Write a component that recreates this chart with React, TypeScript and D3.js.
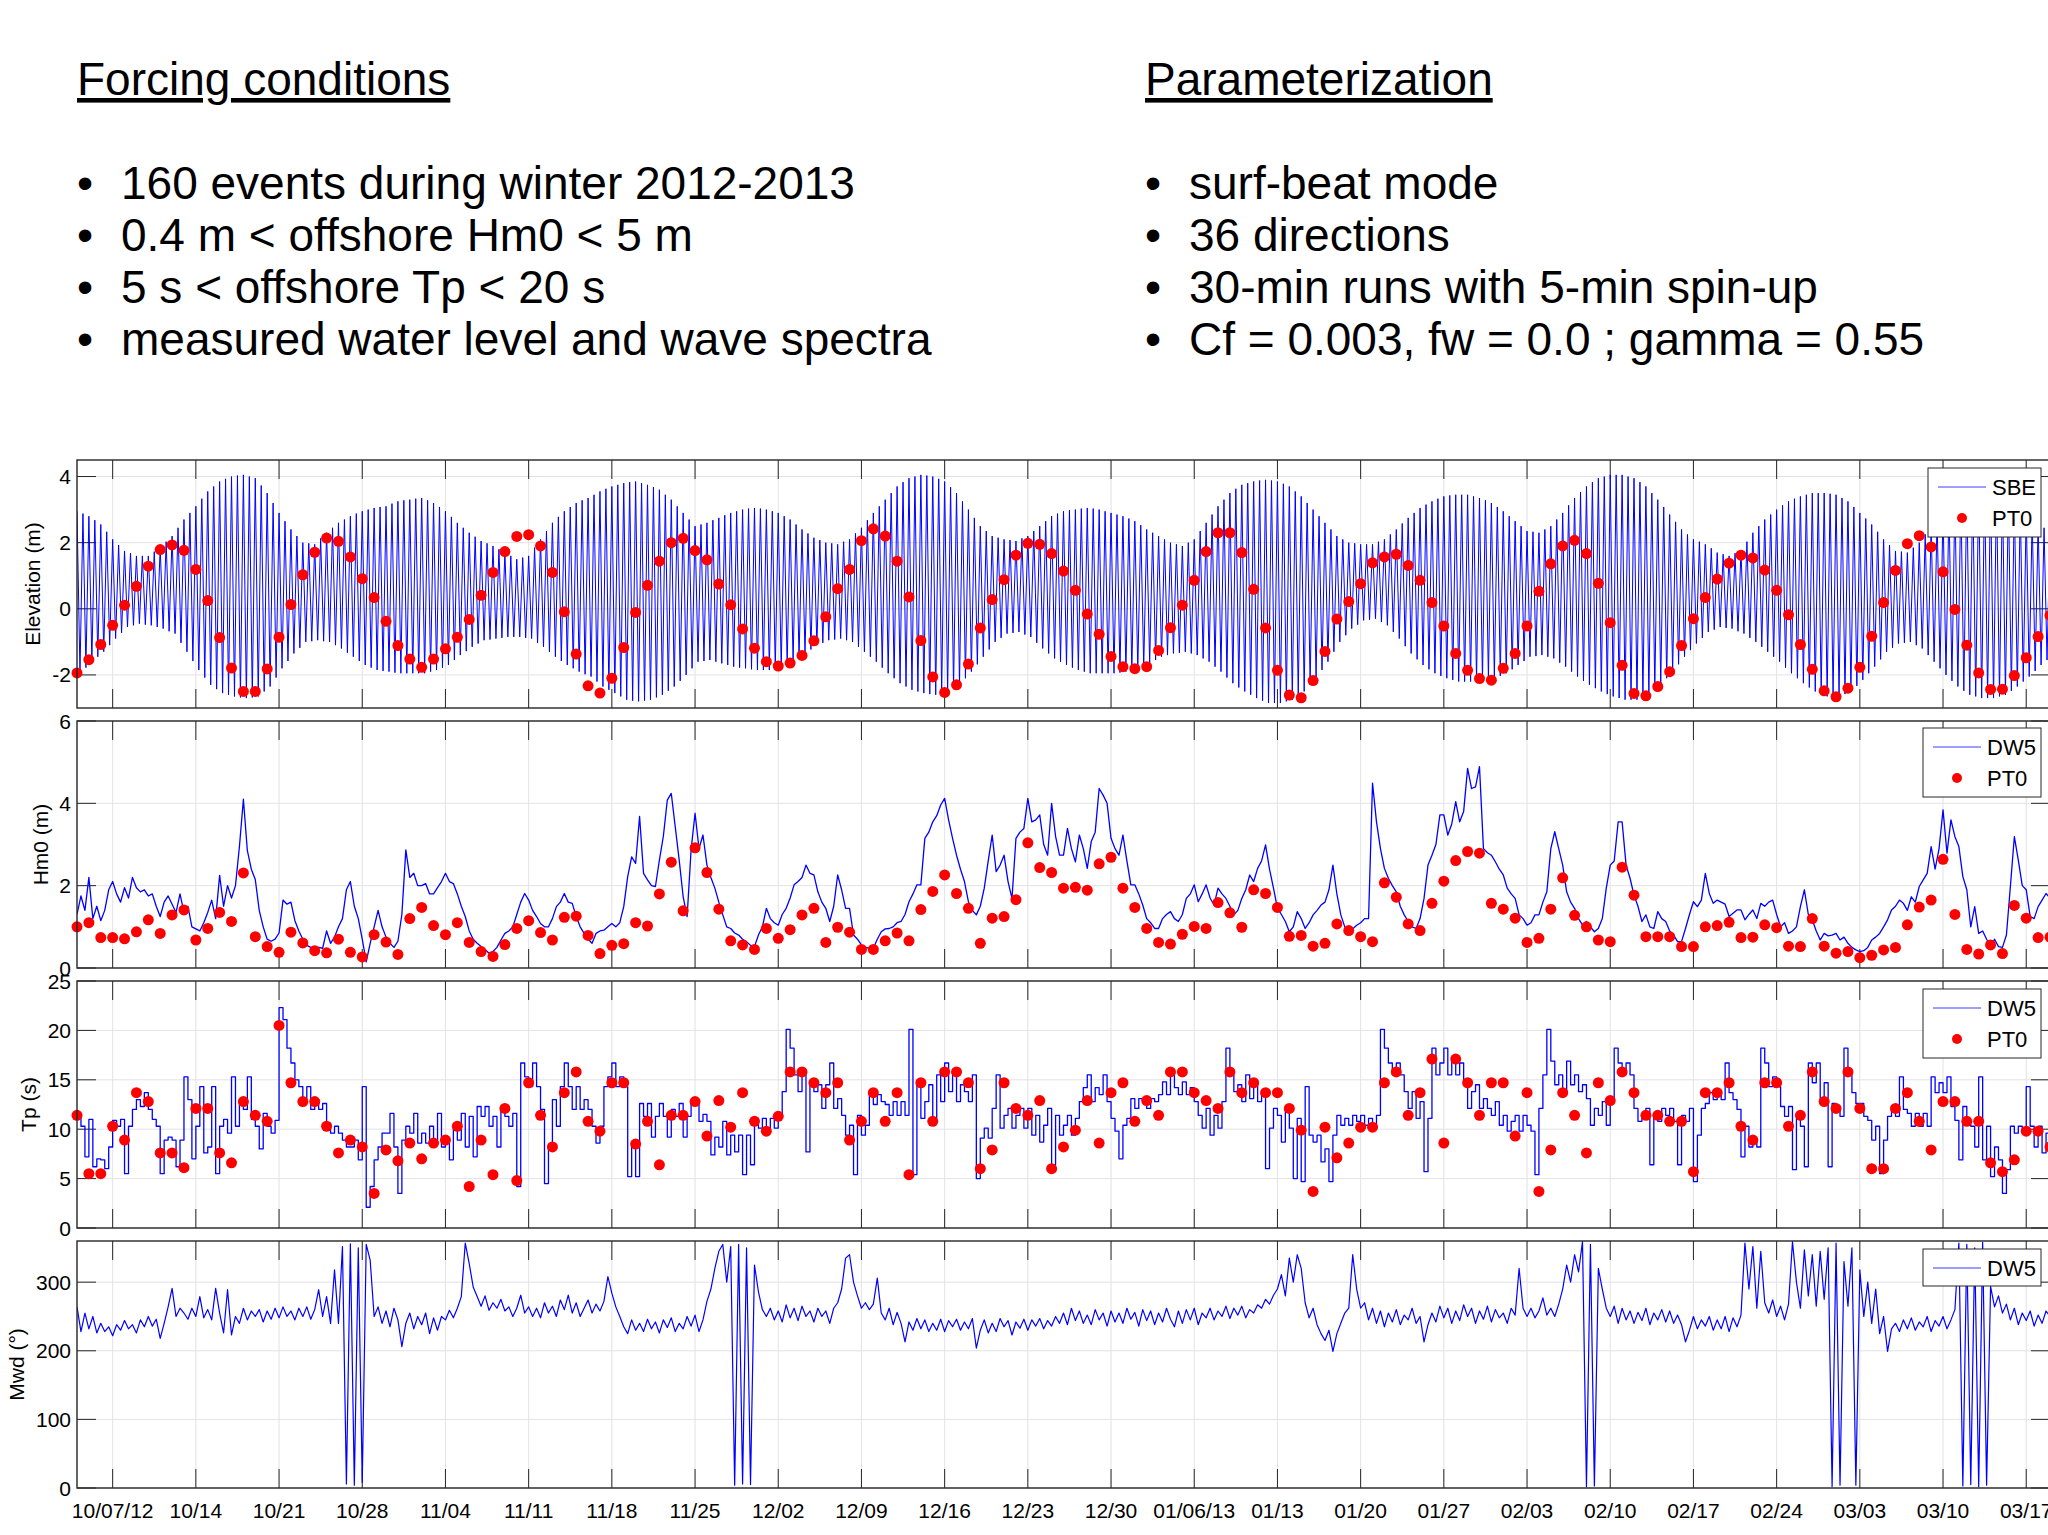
import * as d3 from 'd3'

// slide text
const forcingTitle = 'Forcing conditions'
const forcingItems = [
  '160 events during winter 2012-2013',
  '0.4 m < offshore Hm0 < 5 m',
  '5 s < offshore Tp < 20 s',
  'measured water level and wave spectra',
]
const paramTitle = 'Parameterization'
const paramItems = [
  'surf-beat mode',
  '36 directions',
  '30-min runs with 5-min spin-up',
  'Cf = 0.003, fw = 0.0 ; gamma = 0.55',
]

const tickLabels = [
  '10/07/12', '10/14', '10/21', '10/28', '11/04', '11/11', '11/18', '11/25', '12/02', '12/09', '12/16', '12/23',
  '12/30', '01/06/13', '01/13', '01/20', '01/27', '02/03', '02/10', '02/17', '02/24', '03/03', '03/10', '03/17',
]

// SBE water level: high / low water, two tides a day from 10/04/12
const sbeHigh = [
  2.95, 2.88, 2.8, 2.68, 2.55, 2.33, 2.1, 1.93, 1.75, 1.68, 1.6, 1.6, 1.6, 1.73, 1.85, 2.03, 2.2, 2.45, 2.7, 2.9,
  3.1, 3.33, 3.55, 3.7, 3.85, 3.93, 4.0, 4.03, 4.05, 4.0, 3.95, 3.73, 3.5, 3.2, 2.9, 2.65, 2.4, 2.2, 2.0, 1.98,
  1.95, 2.13, 2.3, 2.45, 2.6, 2.7, 2.8, 2.88, 2.95, 3.0, 3.05, 3.08, 3.1, 3.18, 3.25, 3.28, 3.3, 3.33, 3.35, 3.28,
  3.2, 3.08, 2.95, 2.78, 2.6, 2.45, 2.3, 2.18, 2.05, 1.98, 1.9, 1.8, 1.7, 1.6, 1.5, 1.55, 1.6, 1.85, 2.1, 2.35,
  2.6, 2.78, 2.95, 3.08, 3.2, 3.28, 3.35, 3.45, 3.55, 3.63, 3.7, 3.75, 3.8, 3.83, 3.85, 3.8, 3.75, 3.68, 3.6, 3.45,
  3.3, 3.1, 2.9, 2.7, 2.5, 2.55, 2.6, 2.68, 2.75, 2.83, 2.9, 2.95, 3.0, 3.03, 3.05, 3.03, 3.0, 2.95, 2.9, 2.8,
  2.7, 2.55, 2.4, 2.28, 2.15, 2.08, 2.0, 1.98, 1.95, 2.03, 2.1, 2.28, 2.45, 2.68, 2.9, 3.1, 3.3, 3.5, 3.7, 3.83,
  3.95, 4.0, 4.05, 4.03, 4.0, 3.93, 3.85, 3.68, 3.5, 3.25, 3.0, 2.75, 2.5, 2.35, 2.2, 2.15, 2.1, 2.08, 2.05, 2.13,
  2.2, 2.35, 2.5, 2.65, 2.8, 2.88, 2.95, 2.98, 3.0, 3.03, 3.05, 3.03, 3.0, 2.95, 2.9, 2.85, 2.8, 2.73, 2.65, 2.53,
  2.4, 2.3, 2.2, 2.1, 2.0, 1.95, 1.9, 2.0, 2.1, 2.35, 2.6, 2.85, 3.1, 3.3, 3.5, 3.63, 3.75, 3.8, 3.85, 3.88,
  3.9, 3.88, 3.85, 3.78, 3.7, 3.55, 3.4, 3.2, 3.0, 2.8, 2.6, 2.4, 2.2, 2.1, 2.0, 1.98, 1.95, 1.95, 1.95, 2.03,
  2.1, 2.25, 2.4, 2.58, 2.75, 2.9, 3.05, 3.15, 3.25, 3.33, 3.4, 3.43, 3.45, 3.45, 3.45, 3.4, 3.35, 3.28, 3.2, 3.08,
  2.95, 2.8, 2.65, 2.5, 2.35, 2.33, 2.3, 2.4, 2.5, 2.7, 2.9, 3.13, 3.35, 3.53, 3.7, 3.83, 3.95, 4.0, 4.05, 4.05,
  4.05, 4.0, 3.95, 3.83, 3.7, 3.5, 3.3, 3.08, 2.85, 2.63, 2.4, 2.25, 2.1, 2.03, 1.95, 1.83, 1.7, 1.65, 1.6, 1.68,
  1.75, 2.03, 2.3, 2.5, 2.7, 2.85, 3.0, 3.13, 3.25, 3.33, 3.4, 3.45, 3.5, 3.5, 3.5, 3.48, 3.45, 3.35, 3.25, 3.08,
  2.9, 2.73, 2.55, 2.33, 2.1, 1.93, 1.75, 1.73, 1.7, 1.85, 2.0, 2.25, 2.5, 2.75, 3.0, 3.2, 3.4, 3.55, 3.7, 3.75,
  3.8, 3.78, 3.75, 3.68, 3.6, 3.45, 3.3, 3.13, 2.95, 2.78, 2.6, 2.45, 2.3, 2.2,
]
const sbeLow = [
  -1.95, -1.78, -1.6, -1.45, -1.3, -1.1, -0.9, -0.73, -0.55, -0.5, -0.45, -0.48, -0.5, -0.55, -0.6, -0.68, -0.75, -1.03, -1.3, -1.58,
  -1.85, -2.08, -2.3, -2.43, -2.55, -2.6, -2.65, -2.68, -2.7, -2.68, -2.65, -2.5, -2.35, -2.08, -1.8, -1.58, -1.35, -1.18, -1.0, -0.98,
  -0.95, -0.98, -1.0, -1.1, -1.2, -1.33, -1.45, -1.58, -1.7, -1.78, -1.85, -1.88, -1.9, -1.93, -1.95, -1.95, -1.95, -1.95, -1.95, -1.9,
  -1.85, -1.78, -1.7, -1.55, -1.4, -1.28, -1.15, -1.05, -0.95, -0.93, -0.9, -0.88, -0.85, -0.85, -0.85, -0.88, -0.9, -1.03, -1.15, -1.3,
  -1.45, -1.58, -1.7, -1.8, -1.9, -1.98, -2.05, -2.2, -2.35, -2.45, -2.55, -2.65, -2.75, -2.78, -2.8, -2.78, -2.75, -2.68, -2.6, -2.48,
  -2.35, -2.18, -2.0, -1.8, -1.6, -1.58, -1.55, -1.6, -1.65, -1.7, -1.75, -1.78, -1.8, -1.83, -1.85, -1.85, -1.85, -1.83, -1.8, -1.7,
  -1.6, -1.48, -1.35, -1.23, -1.1, -1.03, -0.95, -0.93, -0.9, -0.95, -1.0, -1.15, -1.3, -1.45, -1.6, -1.78, -1.95, -2.1, -2.25, -2.35,
  -2.45, -2.5, -2.55, -2.58, -2.6, -2.58, -2.55, -2.43, -2.3, -2.1, -1.9, -1.68, -1.45, -1.23, -1.0, -0.88, -0.75, -0.73, -0.7, -0.78,
  -0.85, -1.03, -1.2, -1.35, -1.5, -1.6, -1.7, -1.78, -1.85, -1.9, -1.95, -1.95, -1.95, -1.95, -1.95, -1.93, -1.9, -1.88, -1.85, -1.75,
  -1.65, -1.55, -1.45, -1.4, -1.35, -1.33, -1.3, -1.35, -1.4, -1.5, -1.6, -1.75, -1.9, -2.08, -2.25, -2.38, -2.5, -2.6, -2.7, -2.78,
  -2.85, -2.85, -2.85, -2.8, -2.75, -2.63, -2.5, -2.3, -2.1, -1.85, -1.6, -1.3, -1.0, -0.8, -0.6, -0.48, -0.35, -0.33, -0.3, -0.4,
  -0.5, -0.7, -0.9, -1.13, -1.35, -1.53, -1.7, -1.83, -1.95, -2.03, -2.1, -2.15, -2.2, -2.2, -2.2, -2.18, -2.15, -2.13, -2.1, -2.03,
  -1.95, -1.83, -1.7, -1.58, -1.45, -1.43, -1.4, -1.45, -1.5, -1.63, -1.75, -1.9, -2.05, -2.18, -2.3, -2.4, -2.5, -2.58, -2.65, -2.7,
  -2.75, -2.75, -2.75, -2.68, -2.6, -2.45, -2.3, -2.1, -1.9, -1.68, -1.45, -1.25, -1.05, -0.88, -0.7, -0.63, -0.55, -0.58, -0.6, -0.68,
  -0.75, -0.88, -1.0, -1.15, -1.3, -1.45, -1.6, -1.78, -1.95, -2.1, -2.25, -2.38, -2.5, -2.58, -2.65, -2.65, -2.65, -2.58, -2.5, -2.33,
  -2.15, -1.95, -1.75, -1.53, -1.3, -1.18, -1.05, -1.03, -1.0, -1.1, -1.2, -1.4, -1.6, -1.8, -2.0, -2.18, -2.35, -2.48, -2.6, -2.65,
  -2.7, -2.7, -2.7, -2.65, -2.6, -2.48, -2.35, -2.2, -2.05, -1.88, -1.7, -1.55, -1.4, -1.3,
]

// PT0 events, one a day from 10/04/12
const pt0Elevation = [
  -1.94, -1.54, -1.08, -0.5, 0.11, 0.68, 1.29, 1.79, 1.93, 1.77,
  1.19, 0.25, -0.87, -1.79, -2.5, -2.5, -1.82, -0.86, 0.13, 1.03,
  1.71, 2.14, 2.04, 1.57, 0.91, 0.34, -0.38, -1.11, -1.52, -1.77,
  -1.52, -1.21, -0.86, -0.32, 0.41, 1.1, 1.73, 2.19, 2.24, 1.9,
  1.1, -0.09, -1.37, -2.33, -2.55, -2.1, -1.17, -0.11, 0.71, 1.44,
  2.0, 2.13, 1.76, 1.48, 0.75, 0.12, -0.61, -1.19, -1.6, -1.73,
  -1.64, -1.41, -0.97, -0.24, 0.61, 1.19, 2.06, 2.42, 2.2, 1.44,
  0.36, -0.96, -2.06, -2.53, -2.3, -1.67, -0.58, 0.28, 0.88, 1.62,
  1.98, 1.95, 1.67, 1.14, 0.56, -0.16, -0.77, -1.44, -1.75, -1.81,
  -1.75, -1.26, -0.57, 0.11, 0.86, 1.73, 2.3, 2.3, 1.7, 0.59,
  -0.58, -1.86, -2.61, -2.69, -2.17, -1.29, -0.31, 0.22, 0.76, 1.39,
  1.57, 1.65, 1.31, 0.86, 0.19, -0.52, -1.35, -1.86, -2.11, -2.16,
  -1.8, -1.35, -0.52, 0.53, 1.36, 1.9, 2.07, 1.67, 0.77, -0.42,
  -1.71, -2.56, -2.63, -2.35, -1.9, -1.11, -0.3, 0.34, 0.9, 1.38,
  1.62, 1.54, 1.17, 0.56, -0.18, -1.08, -1.83, -2.48, -2.66, -2.4,
  -1.77, -0.83, 0.19, 1.16, 1.97, 2.21, 1.87, 1.12, -0.02, -1.1,
  -1.94, -2.44, -2.43, -2.02, -1.48, -0.84, -0.2,
]
const pt0Hm0 = [
  1.0, 1.1, 0.74, 0.74, 0.71, 0.88, 1.17, 0.84, 1.29, 1.41,
  0.68, 0.96, 1.35, 1.13, 2.31, 0.76, 0.52, 0.38, 0.87, 0.61,
  0.42, 0.37, 0.7, 0.38, 0.27, 0.81, 0.63, 0.33, 1.2, 1.47,
  1.03, 0.81, 1.1, 0.62, 0.4, 0.28, 0.57, 0.96, 1.15, 0.86,
  0.68, 1.23, 1.26, 0.79, 0.35, 0.55, 0.59, 1.1, 1.02, 1.8,
  2.57, 1.39, 2.92, 2.32, 1.43, 0.66, 0.56, 0.45, 0.96, 0.72,
  0.93, 1.29, 1.45, 0.62, 0.99, 0.87, 0.45, 0.45, 0.66, 0.85,
  0.66, 1.42, 1.86, 2.26, 1.81, 1.45, 0.6, 1.21, 1.25, 1.66,
  3.04, 2.44, 2.32, 1.94, 1.96, 1.89, 2.53, 2.69, 1.94, 1.47,
  0.96, 0.62, 0.58, 0.82, 1.01, 0.96, 1.59, 1.34, 0.99, 1.9,
  1.81, 1.47, 0.77, 0.79, 0.53, 0.6, 1.07, 0.91, 0.76, 0.64,
  2.07, 1.72, 1.07, 0.91, 1.57, 2.11, 2.61, 2.83, 2.79, 1.57,
  1.43, 1.21, 0.62, 0.72, 1.43, 2.19, 1.28, 1.0, 0.68, 0.64,
  2.45, 1.77, 0.76, 0.76, 0.76, 0.52, 0.52, 1.0, 1.03, 1.11,
  0.74, 0.75, 1.05, 0.98, 0.53, 0.52, 1.2, 0.53, 0.36, 0.4,
  0.25, 0.31, 0.44, 0.5, 1.05, 1.48, 1.65, 2.64, 1.3, 0.45,
  0.34, 0.56, 0.35, 1.52, 1.21, 0.74, 0.75,
]
const pt0Tp = [
  11.4, 5.5, 5.5, 10.3, 8.9, 13.7, 12.8, 7.6, 7.6, 6.1,
  12.1, 12.1, 7.6, 6.6, 12.8, 11.4, 10.8, 20.5, 14.7, 12.8,
  12.8, 10.3, 7.6, 8.9, 8.2, 3.5, 7.9, 6.8, 8.6, 7.0,
  8.6, 8.9, 10.3, 4.2, 8.9, 5.4, 12.1, 4.8, 14.7, 11.4,
  8.2, 13.7, 15.8, 10.8, 9.8, 14.7, 14.7, 8.5, 10.8, 6.4,
  11.4, 11.4, 12.8, 9.3, 12.9, 10.2, 13.7, 10.8, 9.8, 11.3,
  15.8, 15.8, 14.7, 13.7, 14.7, 8.9, 10.8, 13.7, 10.8, 13.7,
  5.4, 14.7, 10.8, 15.8, 15.8, 14.7, 6.0, 7.9, 14.7, 12.1,
  11.4, 12.9, 6.0, 8.2, 9.9, 12.9, 8.6, 13.7, 14.7, 10.8,
  12.9, 11.4, 15.8, 15.8, 13.7, 12.9, 12.1, 15.8, 13.7, 14.7,
  13.7, 13.7, 12.1, 9.9, 3.7, 10.2, 7.1, 8.6, 10.2, 10.2,
  14.7, 15.8, 11.4, 13.7, 17.1, 8.6, 17.1, 14.7, 11.4, 14.7,
  14.7, 9.3, 13.7, 3.7, 7.9, 13.7, 11.4, 7.6, 14.7, 12.9,
  15.8, 13.7, 11.4, 11.4, 10.8, 10.8, 5.7, 13.7, 13.7, 14.7,
  10.3, 8.9, 14.7, 14.7, 10.3, 11.4, 15.8, 12.8, 12.1, 15.8,
  12.1, 6.0, 6.0, 12.1, 13.7, 10.8, 7.9, 12.8, 12.8, 10.8,
  10.8, 6.6, 5.7, 6.9, 9.8, 9.8, 8.2,
]

// DW5 buoy, every 8 hours from 10/04/12
const dw5Hm0 = [
  1.3, 1.75, 1.4, 2.2, 1.2, 1.5, 1.15, 1.4, 1.9, 2.1, 1.8, 1.6, 1.95, 1.7, 2.2,
  1.95, 1.85, 1.9, 1.75, 1.8, 1.5, 1.25, 1.6, 1.75, 1.55, 1.35, 1.8, 1.35, 1.5, 1.0,
  0.95, 0.9, 1.1, 1.35, 1.65, 1.2, 2.25, 1.5, 2.0, 1.7, 2.0, 2.95, 4.1, 2.85, 2.4,
  2.15, 1.4, 1.0, 0.7, 0.65, 0.7, 0.85, 1.65, 1.55, 1.6, 1.15, 0.9, 0.7, 0.55, 0.5,
  0.45, 0.5, 0.48, 0.9, 0.6, 0.75, 1.0, 1.2, 1.9, 2.1, 1.5, 1.2, 0.7, 0.15, 0.6,
  1.0, 1.4, 1.0, 0.75, 0.6, 0.5, 0.65, 1.3, 2.87, 2.2, 2.3, 2.0, 2.0, 2.05, 1.8,
  1.8, 1.95, 2.1, 2.3, 2.1, 2.05, 1.8, 1.5, 1.25, 0.9, 0.7, 0.6, 0.52, 0.45, 0.36,
  0.4, 0.5, 0.68, 0.84, 0.9, 1.0, 1.3, 1.6, 1.81, 1.65, 1.4, 1.25, 1.08, 1.0, 1.0,
  1.2, 1.49, 1.6, 1.81, 1.6, 1.57, 1.25, 1.0, 0.84, 0.7, 0.6, 0.84, 0.9, 0.92, 1.0,
  1.08, 1.0, 1.1, 1.49, 2.22, 2.7, 2.54, 3.68, 2.3, 2.14, 2.0, 1.98, 2.62, 3.2, 4.08,
  4.24, 3.43, 2.62, 1.73, 1.25, 2.87, 3.76, 2.9, 3.23, 2.5, 2.2, 1.94, 1.6, 1.29, 1.0,
  0.96, 0.85, 0.8, 0.7, 0.64, 0.55, 0.52, 0.8, 1.0, 1.45, 1.2, 1.1, 1.04, 1.3, 1.45,
  1.7, 2.02, 2.1, 2.2, 2.5, 2.3, 2.26, 1.85, 1.6, 1.45, 1.13, 1.5, 2.26, 1.9, 1.45,
  1.45, 0.8, 0.7, 0.56, 0.5, 0.48, 0.48, 0.7, 0.88, 0.95, 0.96, 1.0, 1.1, 1.13, 1.3,
  1.61, 1.8, 2.02, 2.02, 3.15, 3.3, 3.55, 3.7, 3.96, 4.12, 3.6, 3.15, 2.74, 2.4, 2.1,
  1.61, 1.4, 1.29, 1.5, 1.94, 2.6, 3.23, 2.34, 2.5, 2.74, 2.1, 1.69, 3.15, 3.3, 3.39,
  4.12, 3.55, 3.6, 3.72, 3.0, 2.74, 4.0, 3.2, 2.74, 2.74, 3.39, 2.9, 2.58, 3.23, 2.9,
  2.42, 3.07, 3.3, 4.36, 4.2, 4.0, 3.15, 2.9, 2.74, 3.23, 2.6, 2.02, 2.02, 1.8, 1.53,
  1.2, 1.1, 0.96, 0.96, 1.2, 1.3, 1.37, 1.2, 1.13, 1.3, 1.69, 1.8, 2.02, 1.61, 1.8,
  2.02, 1.7, 1.53, 1.94, 1.8, 1.69, 1.5, 1.29, 1.4, 1.69, 1.9, 2.26, 2.1, 2.42, 2.6,
  2.99, 2.4, 1.94, 1.45, 1.3, 1.13, 0.88, 1.0, 1.37, 1.2, 0.96, 1.1, 1.29, 1.4, 1.53,
  1.6, 1.9, 2.5, 1.8, 1.29, 1.0, 0.88, 0.95, 1.04, 1.1, 1.2, 1.2, 4.49, 3.55, 2.9,
  2.42, 2.18, 2.0, 1.85, 1.5, 1.29, 1.13, 1.0, 0.96, 1.2, 1.69, 2.5, 2.74, 3.0, 3.72,
  3.72, 3.23, 3.5, 4.04, 3.55, 3.8, 4.85, 4.36, 4.4, 4.89, 2.9, 2.8, 2.74, 2.58, 2.4,
  2.26, 1.94, 1.8, 1.69, 1.29, 1.2, 1.04, 1.1, 1.29, 1.29, 1.6, 1.85, 2.9, 3.31, 2.9,
  2.5, 1.85, 1.6, 1.45, 1.2, 1.04, 1.13, 1.0, 0.88, 0.96, 1.2, 1.94, 2.5, 2.6, 3.55,
  3.55, 2.5, 2.18, 1.77, 1.5, 1.13, 1.29, 1.0, 0.96, 1.37, 1.2, 1.13, 0.9, 0.8, 0.64,
  0.64, 0.96, 1.3, 1.61, 1.49, 1.65, 2.3, 1.81, 1.57, 1.65, 1.6, 1.55, 1.25, 1.33, 1.41,
  1.41, 1.17, 1.3, 1.41, 1.2, 1.57, 1.5, 1.6, 1.65, 1.3, 1.0, 1.1, 0.84, 0.9, 1.0,
  1.49, 1.9, 1.3, 1.17, 0.9, 0.68, 0.84, 0.78, 0.8, 0.84, 0.68, 0.75, 0.6, 0.5, 0.44,
  0.4, 0.42, 0.5, 0.68, 0.75, 0.84, 1.0, 1.17, 1.41, 1.5, 1.65, 1.57, 1.4, 1.73, 1.6,
  1.98, 2.14, 2.3, 2.95, 2.4, 2.9, 3.84, 2.79, 3.6, 3.19, 2.95, 2.22, 1.9, 1.0, 1.49,
  0.84, 0.9, 0.7, 0.52, 0.7, 0.52, 0.5, 0.8, 1.98, 3.19, 2.62, 2.0, 1.9, 1.25, 1.2,
  1.49, 1.65, 1.81, 1.7,
]
const dw5Tp = [
  11.6, 10.3, 7.2, 11.0, 6.2, 7.0, 6.9, 6.0, 8.2, 10.9, 10.3, 11.0, 5.5, 10.3, 12.0,
  13.0, 12.3, 13.7, 12.0, 11.0, 10.3, 5.5, 8.9, 9.2, 8.9, 6.2, 8.9, 15.3, 13.0, 7.0,
  10.3, 14.3, 7.6, 8.2, 14.3, 5.5, 10.3, 11.0, 9.6, 15.3, 10.3, 13.0, 12.0, 15.3, 11.0,
  10.3, 8.0, 11.6, 10.3, 9.6, 10.9, 22.3, 21.1, 18.2, 16.7, 15.0, 14.3, 13.0, 14.3, 12.0,
  13.0, 12.0, 12.6, 10.6, 9.6, 10.3, 9.6, 8.9, 8.2, 8.2, 8.9, 6.9, 14.3, 2.1, 4.2,
  6.9, 8.2, 9.6, 9.6, 11.6, 8.2, 3.5, 8.9, 10.3, 9.6, 11.6, 8.6, 9.6, 8.6, 10.3,
  8.9, 11.6, 8.2, 8.9, 6.9, 10.3, 8.9, 11.6, 8.2, 11.3, 7.2, 12.3, 11.3, 12.3, 10.3,
  11.3, 8.2, 12.0, 11.3, 10.3, 11.6, 4.2, 16.7, 15.3, 14.3, 16.7, 14.3, 12.0, 4.5, 8.2,
  13.0, 10.3, 14.3, 16.7, 14.3, 12.0, 14.3, 12.0, 13.0, 12.0, 10.3, 8.6, 10.3, 14.3, 15.3,
  16.7, 14.3, 15.3, 14.3, 5.2, 8.2, 5.2, 12.6, 11.3, 12.6, 9.2, 11.3, 12.6, 11.3, 9.2,
  12.0, 11.3, 12.6, 9.2, 11.3, 12.6, 12.8, 10.8, 11.5, 10.8, 7.4, 9.2, 8.2, 10.8, 7.4,
  9.4, 7.7, 9.4, 5.4, 9.4, 6.4, 11.1, 10.1, 11.1, 10.1, 11.1, 10.1, 11.1, 13.8, 20.1,
  18.2, 15.5, 13.8, 15.5, 7.7, 14.5, 13.8, 14.5, 12.1, 14.5, 16.7, 12.1, 13.1, 11.4, 9.4,
  10.4, 5.4, 11.4, 9.4, 10.4, 13.5, 12.5, 13.5, 12.8, 12.5, 11.4, 12.8, 11.4, 12.8, 11.4,
  20.1, 5.4, 14.5, 11.1, 12.8, 14.5, 11.1, 15.5, 12.8, 16.7, 13.8, 15.5, 12.8, 14.5, 13.8,
  12.8, 15.5, 5.0, 9.1, 10.1, 9.1, 12.1, 15.5, 10.1, 11.4, 12.1, 10.1, 11.4, 12.1, 10.1,
  12.1, 9.4, 11.4, 8.7, 10.4, 12.1, 6.4, 11.4, 9.4, 10.4, 11.4, 9.4, 11.1, 12.8, 14.2,
  15.5, 12.8, 14.2, 13.5, 15.5, 12.8, 11.1, 9.8, 7.0, 10.4, 11.1, 13.1, 12.1, 13.1, 12.8,
  12.1, 13.1, 12.8, 13.5, 14.8, 13.5, 15.9, 14.2, 13.5, 14.8, 13.5, 14.2, 12.8, 11.4, 10.1,
  12.1, 9.4, 11.4, 10.1, 12.8, 18.2, 15.5, 13.8, 14.5, 12.8, 15.5, 13.1, 14.5, 12.8, 13.8,
  6.0, 10.1, 12.1, 11.4, 8.7, 12.1, 10.1, 5.0, 11.1, 4.7, 14.3, 9.4, 8.7, 9.4, 6.7,
  8.0, 4.7, 9.4, 11.4, 10.4, 11.1, 10.4, 11.4, 10.8, 11.4, 10.4, 11.1, 10.1, 11.4, 20.1,
  18.2, 16.7, 15.5, 16.7, 15.5, 13.8, 12.1, 13.8, 11.1, 12.8, 5.7, 11.1, 18.2, 15.5, 16.7,
  18.2, 15.5, 17.1, 15.5, 16.7, 14.5, 12.1, 13.8, 14.5, 12.1, 13.1, 12.1, 11.4, 12.8, 10.4,
  11.4, 9.8, 10.8, 11.4, 9.8, 11.4, 10.4, 9.8, 5.4, 12.1, 15.5, 20.1, 16.9, 14.5, 15.5,
  13.8, 16.9, 14.5, 15.5, 13.8, 14.5, 13.1, 10.4, 12.1, 11.4, 12.8, 10.4, 13.1, 18.2, 16.7,
  15.5, 16.7, 15.5, 12.1, 10.8, 11.4, 12.1, 6.4, 11.4, 10.8, 12.1, 11.4, 12.1, 10.8, 6.4,
  11.4, 10.8, 12.1, 4.7, 9.4, 12.1, 12.6, 13.7, 13.0, 13.7, 13.0, 16.7, 13.7, 13.0, 12.0,
  7.2, 10.3, 8.2, 8.9, 8.2, 18.2, 16.7, 14.3, 15.3, 14.3, 12.3, 11.3, 12.3, 5.9, 11.3,
  10.3, 6.2, 16.7, 14.7, 16.7, 12.6, 14.7, 6.2, 12.6, 12.0, 11.3, 18.2, 16.0, 13.7, 12.6,
  12.6, 11.3, 10.9, 8.9, 10.3, 5.5, 8.9, 11.3, 12.0, 11.3, 15.3, 12.0, 11.6, 10.3, 11.6,
  10.3, 11.6, 10.3, 15.3, 13.7, 14.7, 13.7, 15.3, 12.3, 10.9, 6.9, 12.3, 10.9, 10.3, 8.2,
  15.3, 6.9, 10.3, 5.2, 8.2, 6.9, 3.5, 5.9, 10.3, 9.6, 10.3, 9.6, 14.3, 10.3, 8.2,
  10.3, 7.6, 9.6, 8.2,
]
const dw5Mwd = [
  264, 228, 255, 232, 250, 226, 240, 228, 235, 222, 238, 230, 244, 232, 238,
  226, 245, 235, 250, 236, 246, 218, 240, 264, 291, 250, 262, 255, 246, 262,
  250, 279, 248, 260, 245, 291, 255, 226, 289, 223, 250, 240, 262, 245, 258,
  250, 260, 242, 258, 246, 262, 248, 264, 250, 258, 245, 262, 250, 264, 246,
  260, 289, 250, 279, 240, 318, 240, 352, 6, 356, 4, 350, 8, 355, 332,
  250, 264, 240, 258, 235, 262, 245, 206, 240, 255, 232, 250, 238, 255, 225,
  248, 230, 250, 245, 259, 248, 262, 279, 357, 327, 293, 279, 265, 280, 259,
  270, 262, 275, 258, 264, 250, 262, 281, 255, 264, 250, 262, 248, 270, 255,
  265, 250, 274, 260, 281, 255, 270, 250, 262, 274, 255, 268, 258, 272, 308,
  284, 264, 250, 235, 225, 245, 230, 240, 228, 246, 232, 242, 226, 245, 234,
  248, 228, 240, 232, 250, 236, 252, 228, 245, 272, 290, 320, 345, 355, 300,
  352, 4, 355, 6, 350, 5, 325, 286, 260, 250, 262, 245, 258, 242, 267,
  248, 262, 244, 265, 250, 258, 242, 262, 250, 258, 240, 262, 270, 290, 335,
  340, 300, 280, 262, 270, 260, 268, 306, 255, 245, 262, 238, 256, 240, 213,
  242, 230, 247, 232, 245, 228, 240, 230, 246, 228, 244, 235, 246, 230, 242,
  232, 247, 204, 230, 245, 226, 240, 228, 247, 235, 244, 223, 242, 233, 246,
  230, 245, 236, 247, 232, 244, 236, 250, 240, 255, 238, 262, 244, 258, 240,
  252, 238, 260, 245, 255, 236, 258, 242, 255, 240, 262, 246, 256, 236, 260,
  244, 258, 238, 255, 242, 262, 246, 235, 258, 240, 260, 245, 262, 238, 255,
  248, 262, 245, 258, 250, 265, 247, 262, 252, 265, 248, 260, 255, 267, 262,
  275, 268, 281, 290, 311, 280, 335, 300, 340, 320, 270, 248, 262, 238, 225,
  215, 230, 199, 225, 240, 255, 262, 340, 290, 262, 270, 245, 262, 240, 258,
  235, 255, 242, 260, 238, 252, 245, 262, 240, 250, 213, 238, 255, 242, 265,
  248, 262, 240, 258, 244, 267, 250, 262, 240, 258, 246, 265, 242, 260, 248,
  255, 240, 262, 252, 320, 262, 250, 262, 248, 258, 277, 252, 262, 250, 268,
  290, 325, 300, 340, 315, 359, 2, 355, 3, 320, 290, 262, 250, 265, 240,
  262, 245, 258, 240, 256, 244, 262, 238, 255, 245, 260, 242, 258, 240, 252,
  238, 213, 230, 250, 232, 245, 236, 250, 230, 245, 232, 250, 228, 248, 235,
  252, 357, 290, 352, 262, 345, 270, 255, 274, 250, 265, 245, 268, 359, 300,
  262, 347, 280, 340, 265, 345, 275, 350, 2, 357, 4, 330, 265, 350, 4,
  318, 250, 300, 240, 290, 225, 250, 199, 232, 240, 228, 245, 232, 248, 230,
  242, 235, 250, 228, 244, 236, 250, 232, 245, 260, 357, 3, 355, 5, 350,
  2, 358, 4, 294, 264, 280, 255, 268, 245, 262, 238, 255, 244, 258, 236,
  252, 240, 258, 250,
]

type Pt = { t: number; v: number }

const DAY = 86400000
const START = Date.UTC(2012, 9, 4)
const END = Date.UTC(2013, 2, 19)

const FONT = '"Liberation Sans", Arial, Helvetica, sans-serif'
const AXIS = '#262626'
const GRID = '#e2e2e8'
const BLUE = '#0000ff'
const RED = '#ff0000'

const LEFT = 77
const RIGHT = 2050
const TICK = 19

const x = d3.scaleUtc().domain([new Date(START), new Date(END)]).range([LEFT, RIGHT])
const xTicks = d3.utcSunday.range(new Date(START), new Date(END))

const tide: Pt[] = sbeHigh.flatMap((v, i) => [
  { t: START + (i * DAY) / 2, v },
  { t: START + (i * DAY) / 2 + DAY / 4, v: sbeLow[i] },
])
const eightHourly = (arr: number[]): Pt[] => arr.map((v, i) => ({ t: START + (i * DAY) / 3, v }))
const daily = (arr: number[]): Pt[] => arr.map((v, i) => ({ t: START + i * DAY, v }))

type Legend = { left: number; top: number; width: number; entries: string[] }
type PanelCfg = {
  key: string
  top: number
  bottom: number
  domain: [number, number]
  ticks: number[]
  label: string
  labelX: number
  line: Pt[]
  curve: d3.CurveFactory
  lineWidth: number
  dots: Pt[] | null
  legend: Legend
}

const panels: PanelCfg[] = [
  {
    key: 'elev', top: 460, bottom: 708, domain: [-3, 4.5], ticks: [-2, 0, 2, 4],
    label: 'Elevation (m)', labelX: 40, line: tide, curve: d3.curveLinear, lineWidth: 1,
    dots: daily(pt0Elevation),
    legend: { left: 1928, top: 468, width: 113, entries: ['SBE', 'PT0'] },
  },
  {
    key: 'hm0', top: 721, bottom: 968, domain: [0, 6], ticks: [0, 2, 4, 6],
    label: 'Hm0 (m)', labelX: 48, line: eightHourly(dw5Hm0), curve: d3.curveLinear, lineWidth: 1.3,
    dots: daily(pt0Hm0),
    legend: { left: 1923, top: 728, width: 118, entries: ['DW5', 'PT0'] },
  },
  {
    key: 'tp', top: 981, bottom: 1228, domain: [0, 25], ticks: [0, 5, 10, 15, 20, 25],
    label: 'Tp (s)', labelX: 36, line: eightHourly(dw5Tp), curve: d3.curveStepAfter, lineWidth: 1.3,
    dots: daily(pt0Tp),
    legend: { left: 1923, top: 989, width: 118, entries: ['DW5', 'PT0'] },
  },
  {
    key: 'mwd', top: 1241, bottom: 1488, domain: [0, 360], ticks: [0, 100, 200, 300],
    label: 'Mwd (°)', labelX: 24, line: eightHourly(dw5Mwd), curve: d3.curveLinear, lineWidth: 1.2,
    dots: null,
    legend: { left: 1923, top: 1249, width: 118, entries: ['DW5'] },
  },
]

function LegendBox({ lg }: { lg: Legend }) {
  const h = lg.entries.length === 2 ? 69 : 37
  return (
    <g>
      <rect x={lg.left} y={lg.top} width={lg.width} height={h} fill="#fff" stroke={AXIS} strokeWidth={1} />
      {lg.entries.map((name, i) => {
        const cy = lg.top + 19 + i * 31
        return (
          <g key={name}>
            {i === 0 ? (
              <line x1={lg.left + 10} x2={lg.left + 58} y1={cy} y2={cy} stroke="#3c3cff" strokeWidth={1} />
            ) : (
              <circle cx={lg.left + 34} cy={cy} r={5} fill={RED} />
            )}
            <text x={lg.left + 64} y={cy + 8} fontSize={22} fill="#000">{name}</text>
          </g>
        )
      })}
    </g>
  )
}

function Panel({ cfg }: { cfg: PanelCfg }) {
  const y = d3.scaleLinear().domain(cfg.domain).range([cfg.bottom, cfg.top])
  const line = d3.line<Pt>().x(d => x(d.t)).y(d => y(d.v)).curve(cfg.curve)
  const clipId = `clip-${cfg.key}`
  const mid = (cfg.top + cfg.bottom) / 2

  return (
    <g>
      <defs>
        <clipPath id={clipId}>
          <rect x={LEFT} y={cfg.top} width={RIGHT - LEFT} height={cfg.bottom - cfg.top} />
        </clipPath>
      </defs>

      {/* grid */}
      {xTicks.map(t => (
        <line key={+t} x1={x(t)} x2={x(t)} y1={cfg.top} y2={cfg.bottom} stroke={GRID} strokeWidth={1} />
      ))}
      {cfg.ticks.map(v => (
        <line key={v} x1={LEFT} x2={RIGHT} y1={y(v)} y2={y(v)} stroke={GRID} strokeWidth={1} />
      ))}

      {/* ticks */}
      {xTicks.map(t => (
        <g key={`t${+t}`} stroke={AXIS} strokeWidth={1}>
          <line x1={x(t)} x2={x(t)} y1={cfg.top} y2={cfg.top + TICK} />
          <line x1={x(t)} x2={x(t)} y1={cfg.bottom} y2={cfg.bottom - TICK} />
        </g>
      ))}
      {cfg.ticks.map(v => (
        <g key={`y${v}`} stroke={AXIS} strokeWidth={1}>
          <line x1={LEFT} x2={LEFT + TICK} y1={y(v)} y2={y(v)} />
          <line x1={RIGHT} x2={RIGHT - TICK} y1={y(v)} y2={y(v)} />
        </g>
      ))}

      <g clipPath={`url(#${clipId})`}>
        <path d={line(cfg.line) ?? ''} fill="none" stroke={BLUE} strokeWidth={cfg.lineWidth} strokeLinejoin="round" />
      </g>
      {cfg.dots && cfg.dots.map((d, i) => (
        <circle key={i} cx={x(d.t)} cy={y(d.v)} r={5.5} fill={RED} />
      ))}

      <rect x={LEFT} y={cfg.top} width={RIGHT - LEFT} height={cfg.bottom - cfg.top} fill="none" stroke={AXIS} strokeWidth={1.4} />

      {cfg.ticks.map(v => (
        <text key={`l${v}`} x={71} y={y(v) + 7.5} textAnchor="end" fontSize={21} fill="#000">{String(v)}</text>
      ))}
      <text transform={`translate(${cfg.labelX},${mid}) rotate(-90)`} textAnchor="middle" fontSize={21} fill="#000">
        {cfg.label}
      </text>

      <LegendBox lg={cfg.legend} />
    </g>
  )
}

function SlideColumn({ left, title, items }: { left: number; title: string; items: string[] }) {
  return (
    <g fontSize={46} fill="#000">
      <text x={left} y={95} style={{ textDecoration: 'underline' }}>{title}</text>
      {items.map((s, i) => (
        <g key={s}>
          <text x={left + 8} y={199 + i * 52} textAnchor="middle">•</text>
          <text x={left + 44} y={199 + i * 52}>{s}</text>
        </g>
      ))}
    </g>
  )
}

export default function App() {
  const last = panels[panels.length - 1]
  return (
    <svg
      width={2048}
      height={1535}
      viewBox="0 0 2048 1535"
      style={{ position: 'absolute', left: 0, top: 0, display: 'block' }}
      fontFamily={FONT}
    >
      <rect width={2048} height={1535} fill="#fff" />
      <SlideColumn left={77} title={forcingTitle} items={forcingItems} />
      <SlideColumn left={1145} title={paramTitle} items={paramItems} />
      {panels.map(p => <Panel key={p.key} cfg={p} />)}
      {xTicks.map((t, i) => (
        <text key={+t} x={x(t)} y={last.bottom + 30} textAnchor="middle" fontSize={21} fill="#000">
          {tickLabels[i]}
        </text>
      ))}
    </svg>
  )
}
